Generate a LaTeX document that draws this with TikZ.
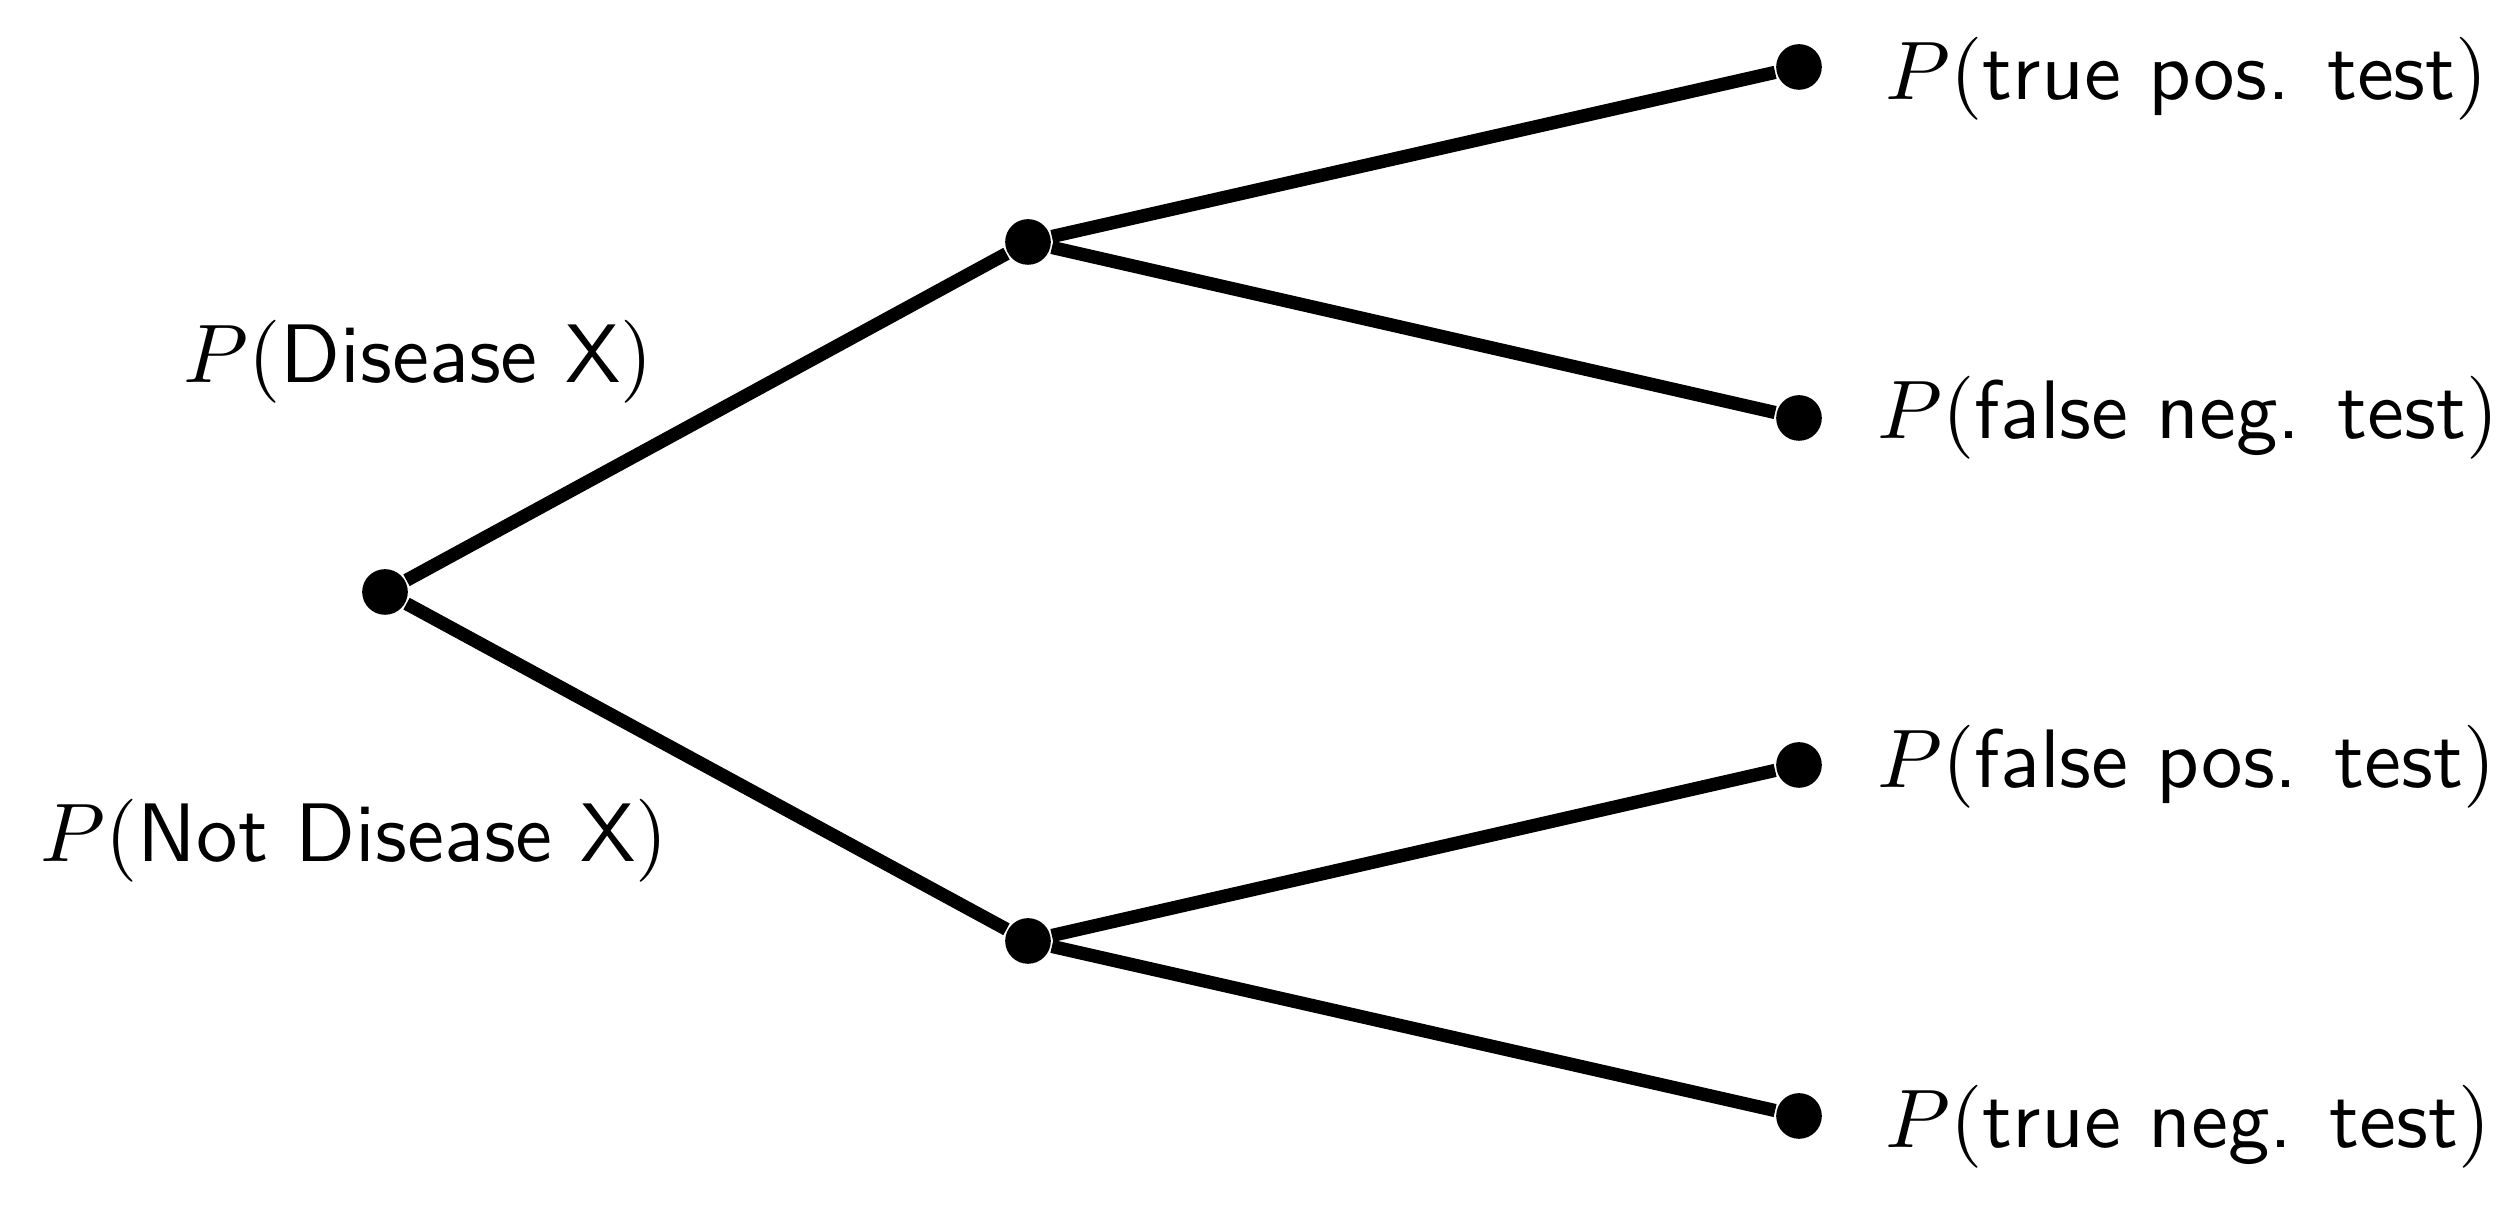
\documentclass[tikz,border=0pt]{standalone}
\begin{document}
\begin{tikzpicture}[x=0.12045pt,y=-0.12045pt,
  dotnode/.style={circle,fill=black,inner sep=0pt,minimum size=5.5pt},
  branch/.style={line width=1.6pt,black},
  lbl/.style={anchor=base west,inner sep=0pt,font=\sffamily}]
\useasboundingbox (0,0) rectangle (2500,1228);
\node[dotnode] (root) at (385,592) {};
\node[dotnode] (dis) at (1028,242) {};
\node[dotnode] (notdis) at (1028,941) {};
\node[dotnode] (tp) at (1799,67) {};
\node[dotnode] (fn) at (1799,418) {};
\node[dotnode] (fp) at (1799,765) {};
\node[dotnode] (tn) at (1799,1116) {};
\draw[branch] (root) -- (dis);
\draw[branch] (root) -- (notdis);
\draw[branch] (dis) -- (tp);
\draw[branch] (dis) -- (fn);
\draw[branch] (notdis) -- (fp);
\draw[branch] (notdis) -- (tn);
\node[lbl] (ldis) at (182,383) {$P($Disease X$)$};
\node[lbl] (lnot) at (39,862) {$P($Not Disease X$)$};
\node[lbl] (ltp) at (1884,100) {$P($true pos. test$)$};
\node[lbl] (lfn) at (1876,439) {$P($false neg. test$)$};
\node[lbl] (lfp) at (1876,788) {$P($false pos. test$)$};
\node[lbl] (ltn) at (1884,1148) {$P($true neg. test$)$};
\end{tikzpicture}
\end{document}
